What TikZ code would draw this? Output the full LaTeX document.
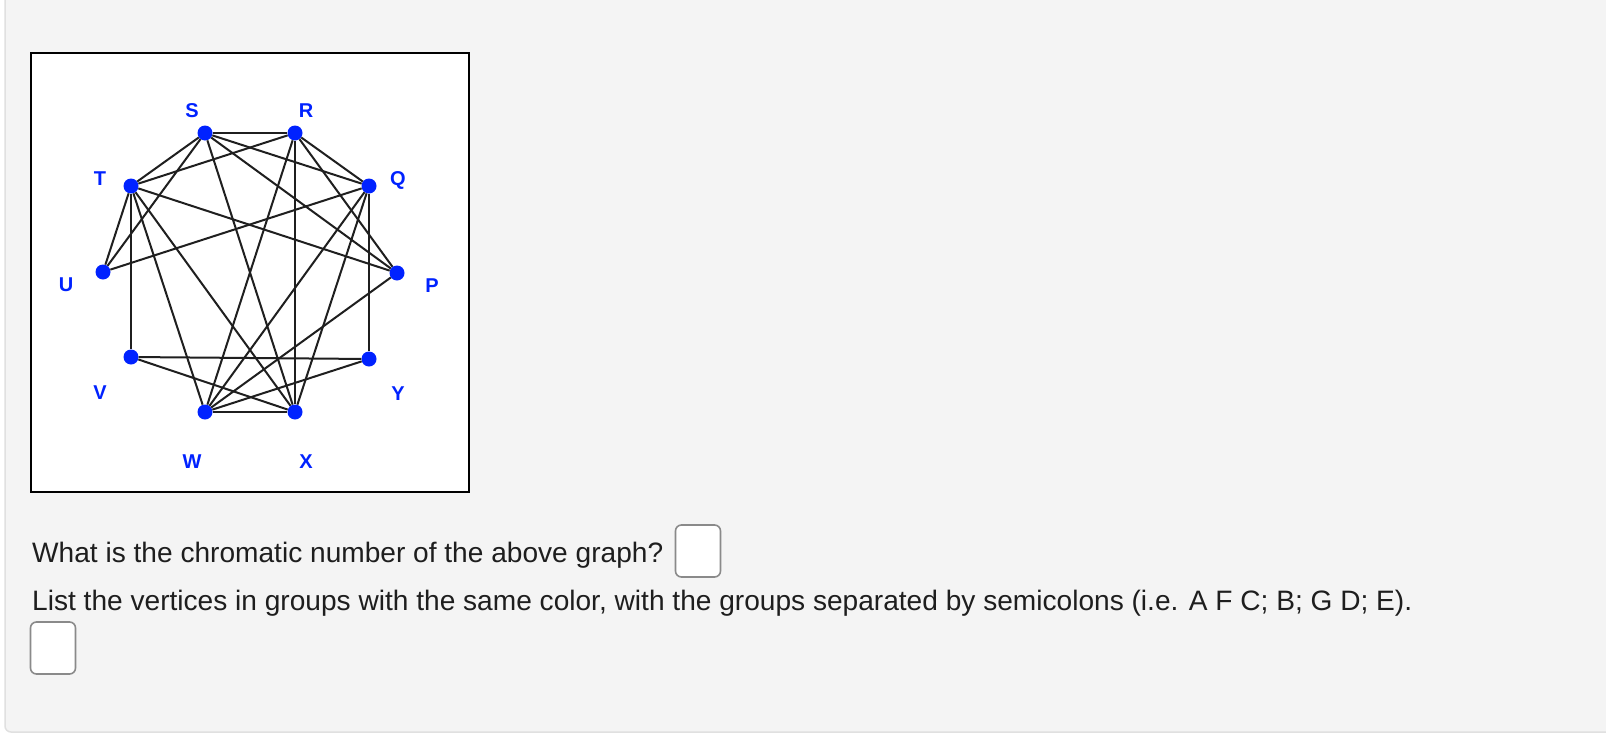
\documentclass[tikz,border=0pt]{standalone}
\usepackage{fontspec}
\setmainfont{Liberation Sans}
\definecolor{panelgray}{HTML}{F4F4F4}
\definecolor{panelline}{HTML}{E0E0E0}
\definecolor{vblue}{HTML}{0022FF}
\definecolor{textdark}{HTML}{1E1E1E}
\definecolor{boxline}{HTML}{8A8A8A}
\tikzset{
  vtx/.style={circle, fill=vblue, inner sep=0pt, minimum size=15pt},
  vlabel/.style={text=vblue, font=\fontsize{20}{20}\selectfont\bfseries},
  edge/.style={draw=black!88, line width=2pt},
  question/.style={anchor=base west, text=textdark, inner sep=0pt, font=\fontsize{28.1}{32}\selectfont},
  answerbox/.style={draw=boxline, line width=1.6pt, fill=white, rounded corners=6pt, minimum width=45pt, minimum height=52pt}
}
\begin{document}
\begin{tikzpicture}[x=1pt, y=-1pt]
\useasboundingbox (0,0) rectangle (1606,744);
\fill[white] (0,0) rectangle (1606,744);
\filldraw[fill=panelgray, draw=panelline, line width=1.5pt, rounded corners=6pt] (5,-20) rectangle (1630,732);
% graph frame
\filldraw[fill=white, draw=black, line width=1.7pt] (31,53) rectangle (469,492);
% vertices
\foreach \n/\x/\y in {S/205/133, R/295/133, Q/369/186, P/397/273, Y/369/359,
                      X/295/412, W/205/412, V/131/357, U/103/272, T/131/186}
    \node[vtx] (\n) at (\x,\y) {};
% labels
\foreach \n/\x/\y in {S/192/111, R/306/111, Q/398/180, P/432/286, Y/398/394,
                      X/306/462, W/192/462, V/100/393, U/66/285, T/100/179}
    \node[vlabel] (l\n) at (\x,\y) {\n};
% edges
\foreach \a/\b in {S/R, S/T, S/U, S/Q, S/P, S/X,
                   R/T, R/Q, R/P, R/X, R/W,
                   T/U, T/V, T/W, T/X, T/P,
                   Q/U, Q/Y, Q/W, Q/X,
                   P/W, V/Y, V/X, Y/W, W/X}
    \draw[edge] (\a) -- (\b);
% question text
\node[question] (q1) at (32,562) {What is the chromatic number of the above graph?};
\node[answerbox] (a1) at (698,551) {};
\node[question] (q2) at (32,610) {List the vertices in groups with the same color, with the groups separated by semicolons (i.e. A F C; B; G D; E).};
\node[answerbox] (a2) at (53,648) {};
\end{tikzpicture}
\end{document}
